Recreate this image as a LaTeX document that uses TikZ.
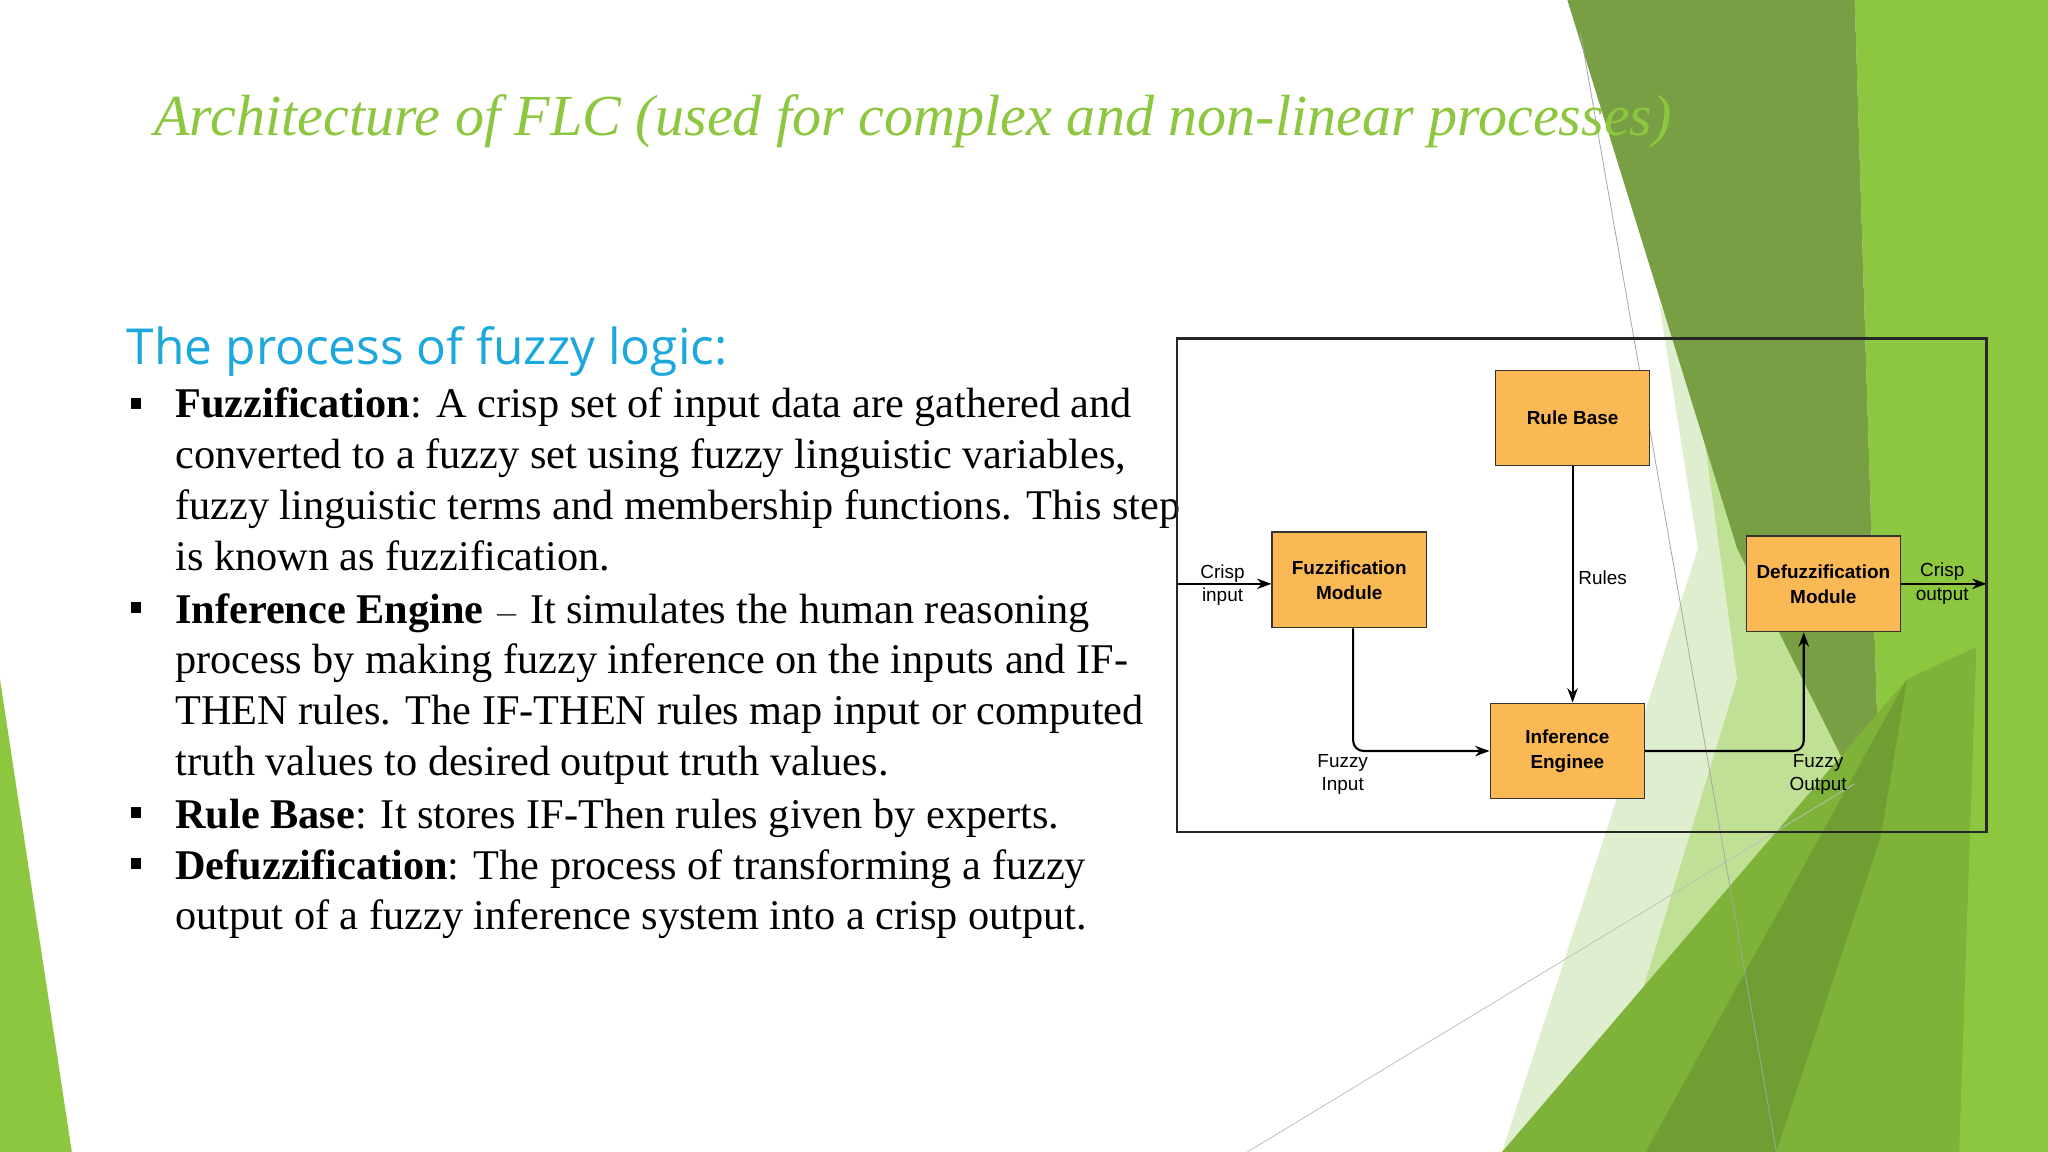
\documentclass[tikz,border=0pt]{standalone}
\usepackage{fontspec}
\setmainfont{Liberation Serif}
\newfontfamily\arialf{Liberation Sans}
\newfontfamily\opensf{Open Sans}
\usetikzlibrary{arrows.meta}
\definecolor{titlegreen}{HTML}{8DC63F}
\definecolor{subblue}{HTML}{1CA8DD}
\definecolor{boxfill}{HTML}{FBB955}
\tikzset{
 x=1pt,y=-1pt,
 line/.style={anchor=base west,inner sep=0pt,font=\fontsize{32.4}{38}\selectfont},
 blt/.style={fill=black,minimum size=8pt,inner sep=0pt},
 mod/.style={draw=black!80,line width=1.2pt,fill=boxfill,minimum width=118pt,minimum height=73pt,align=center,font=\arialf\bfseries\fontsize{14.5}{19}\selectfont,inner sep=0pt},
 lab/.style={align=center,font=\arialf\fontsize{14.5}{18}\selectfont,inner sep=0pt},
 conn/.style={line width=1.6pt,-{Stealth[length=11pt,width=8pt]},rounded corners=8pt}
}
\begin{document}
\begin{tikzpicture}
\useasboundingbox (0,0) rectangle (1568,882);
\fill[white] (0,0) rectangle (1568,882);
% background shapes
\fill[titlegreen] (1420,0) -- (1568,0) -- (1568,882) -- (1340,882) -- (1440,640) -- cycle;
\fill[green!35!black!10!titlegreen!25] (1270,230) -- (1440,640) -- (1150,882) -- (1300,420) -- cycle;
\fill[titlegreen!55] (1300,300) -- (1440,640) -- (1220,882) -- (1330,520) -- cycle;
\fill[black!25!titlegreen!90] (1200,0) -- (1420,0) -- (1440,640) -- (1330,420) -- cycle;
\fill[black!10!titlegreen] (1150,882) -- (1460,520) -- (1568,470) -- (1568,882) -- cycle;
\fill[black!20!titlegreen] (1260,882) -- (1460,520) -- (1440,640) -- (1360,882) -- cycle;
\fill[titlegreen] (1530,0) -- (1568,0) -- (1568,882) -- (1500,882) -- cycle;
\fill[titlegreen] (0,520) -- (55,882) -- (0,882) -- cycle;
\draw[black!35,line width=0.6pt] (1210,25) -- (1360,882);
\draw[black!25,line width=0.6pt] (955,882) -- (1420,600);
% title
\node[anchor=base west,inner sep=0pt,text=titlegreen,font=\itshape\fontsize{44.5}{50}\selectfont] (title) at (118,104) {Architecture of FLC (used for complex and non-linear processes)};
\node[anchor=base west,inner sep=0pt,text=subblue,font=\opensf\fontsize{38}{44}\selectfont] (sub) at (97,279) {The process of fuzzy logic:};
% bullets
\node[blt] (b1) at (104,309) {};
\node[blt] (b2) at (104,465) {};
\node[blt] (b3) at (104,622) {};
\node[blt] (b4) at (104,661) {};
\node[line] (l1) at (134,320) {\textbf{Fuzzification}: A crisp set of input data are gathered and};
\node[line] (l2) at (134,359) {converted to a fuzzy set using fuzzy linguistic variables,};
\node[line] (l3) at (134,398) {fuzzy linguistic terms and membership functions. This step};
\node[line] (l4) at (134,437) {is known as fuzzification.};
\node[line] (l5) at (134,477) {\textbf{Inference Engine} $-$ It simulates the human reasoning};
\node[line] (l6) at (134,516) {process by making fuzzy inference on the inputs and IF-};
\node[line] (l7) at (134,555) {THEN rules. The IF-THEN rules map input or computed};
\node[line] (l8) at (134,594) {truth values to desired output truth values.};
\node[line] (l9) at (134,634) {\textbf{Rule Base}: It stores IF-Then rules given by experts.};
\node[line] (l10) at (134,673) {\textbf{Defuzzification}: The process of transforming a fuzzy};
\node[line] (l11) at (134,712) {output of a fuzzy inference system into a crisp output.};
% diagram
\draw[line width=2pt,black!85] (901,259) rectangle (1521,637);
\node[mod] (rb) at (1204,320) {Rule Base};
\node[mod] (fm) at (1033,444) {Fuzzification\\Module};
\node[mod] (dm) at (1396,447) {Defuzzification\\Module};
\node[mod] (ie) at (1200,575) {Inference\\Enginee};
\coordinate (cin) at (901,447);
\coordinate (cout) at (1521,447);
\draw[conn,rounded corners=0pt] (cin) -- (fm.west |- cin);
\draw[conn] (fm.south -| 1036,0) -- (1036,575) -- (ie.west);
\draw[conn] (rb.south) -- (ie.north -| rb.south);
\draw[conn] (ie.east) -- (1381,575) -- (dm.south -| 1381,0);
\draw[conn,rounded corners=0pt] (dm.east |- cout) -- (cout);
\node[lab] (t1) at (936,448) {Crisp\\input};
\node[lab] (t2) at (1227,442) {Rules};
\node[lab] (t3) at (1028,593) {Fuzzy\\Input};
\node[lab] (t4) at (1392,593) {Fuzzy\\Output};
\node[lab] (t5) at (1487,447) {Crisp\\output};
\end{tikzpicture}
\end{document}
